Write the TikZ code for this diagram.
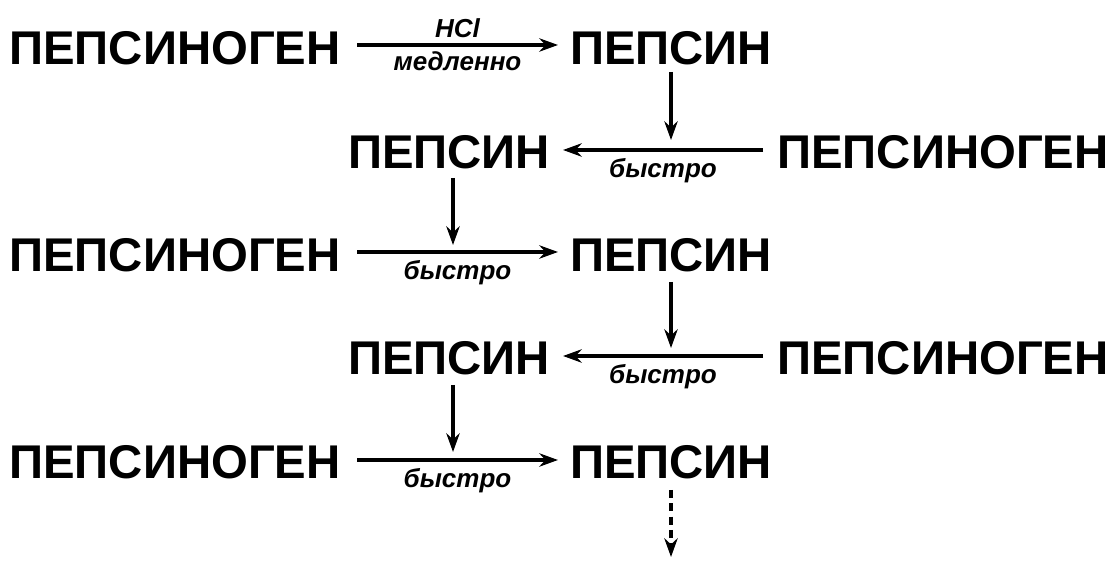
\documentclass[tikz,border=0pt]{standalone}
\usepackage{fontspec}
\setmainfont{Liberation Sans}
\usetikzlibrary{arrows.meta,calc}
\begin{document}
\begin{tikzpicture}[x=0.75pt,y=-0.75pt,
  big/.style={font=\fontsize{35.5}{38}\selectfont\bfseries, inner sep=0pt, anchor=center},
  lab/.style={font=\fontsize{19.5}{22}\selectfont\bfseries\itshape, inner sep=0pt},
  arr/.style={-{Stealth[length=14pt,width=10pt]}, line width=2.4pt}]
\useasboundingbox (0,0) rectangle (1118,573);
\node[big] (g1) at (175,48) {ПЕПСИНОГЕН};
\node[big] (p1) at (671,48) {ПЕПСИН};
\node[big] (p2) at (449,152) {ПЕПСИН};
\node[big] (g2) at (943,152) {ПЕПСИНОГЕН};
\node[big] (g3) at (175,255) {ПЕПСИНОГЕН};
\node[big] (p3) at (671,255) {ПЕПСИН};
\node[big] (p4) at (449,358) {ПЕПСИН};
\node[big] (g4) at (943,358) {ПЕПСИНОГЕН};
\node[big] (g5) at (175,462) {ПЕПСИНОГЕН};
\node[big] (p5) at (671,462) {ПЕПСИН};
\coordinate (e) at (671,557);
\draw[arr] (357,45) coordinate (a1) -- (558,45) coordinate (b1);
\node[lab,above=5pt] at ($(a1)!0.5!(b1)$) {HCl};
\node[lab,below=5pt] at ($(a1)!0.5!(b1)$) {медленно};
\draw[arr] (671,72) -- (671,140);
\draw[arr] (763,150) coordinate (a2) -- (563,150) coordinate (b2);
\node[lab,below=6pt] at ($(a2)!0.5!(b2)$) {быстро};
\draw[arr] (453,178) -- (453,245);
\draw[arr] (357,252) coordinate (a3) -- (558,252) coordinate (b3);
\node[lab,below=6pt] at ($(a3)!0.5!(b3)$) {быстро};
\draw[arr] (671,282) -- (671,348);
\draw[arr] (763,356) coordinate (a4) -- (563,356) coordinate (b4);
\node[lab,below=6pt] at ($(a4)!0.5!(b4)$) {быстро};
\draw[arr] (453,385) -- (453,452);
\draw[arr] (357,460) coordinate (a5) -- (558,460) coordinate (b5);
\node[lab,below=6pt] at ($(a5)!0.5!(b5)$) {быстро};
\draw[arr,dash pattern=on 6pt off 4pt] (671,490) -- (e);
\end{tikzpicture}
\end{document}
